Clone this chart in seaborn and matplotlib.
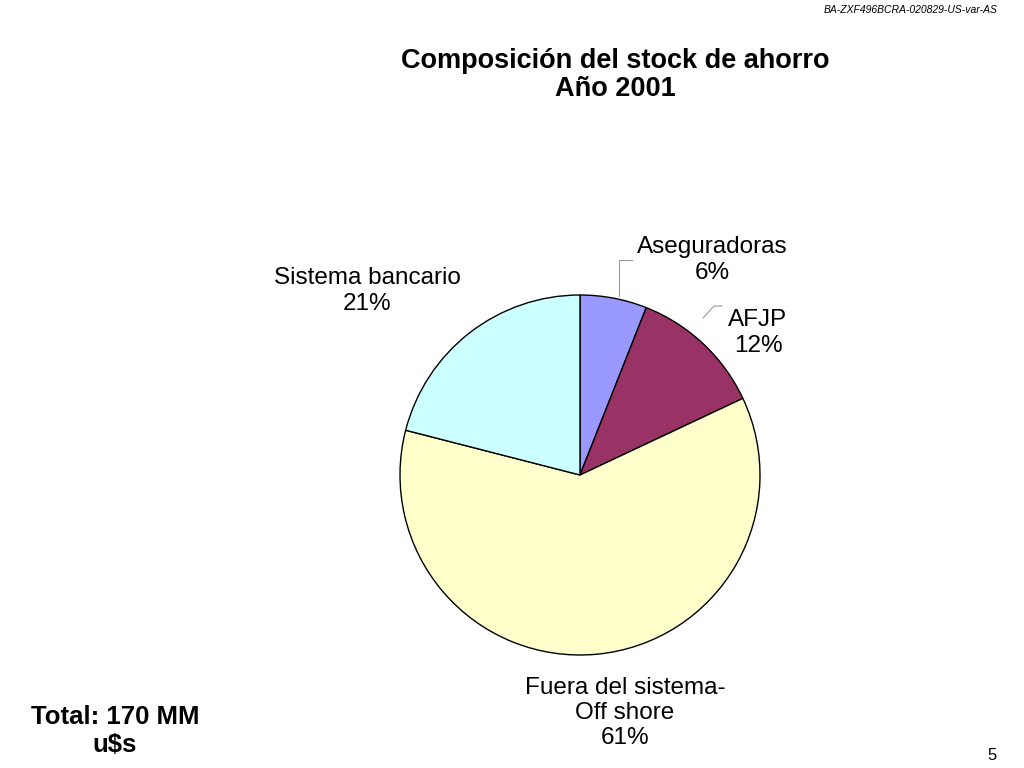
import seaborn as sns
import matplotlib.pyplot as plt
from matplotlib.lines import Line2D

sns.set_style("white")
plt.rcParams['font.family'] = ['Liberation Sans', 'DejaVu Sans']
plt.rcParams['text.color'] = 'black'

# data
labels = ["Aseguradoras", "AFJP", "Fuera del sistema-\nOff shore", "Sistema bancario"]
shares = [6, 12, 61, 21]
colors = ["#9999FF", "#993366", "#FFFFCC", "#CCFFFF"]

fig = plt.figure(figsize=(10.24, 7.68), dpi=100)
ax = fig.add_axes([400 / 1024, 113 / 768, 360 / 1024, 360 / 768])
ax.pie(shares, colors=colors, startangle=90, counterclock=False,
       wedgeprops=dict(edgecolor="black", linewidth=1))
ax.set_aspect("equal")
ax.set_xlim(-1, 1)
ax.set_ylim(-1, 1)

def px(x, y):
    return x / 1024, 1 - y / 768

# slice labels
pos = [(712, 260), (758, 333), (625, 713), (367, 291)]
for lab, s, (x, y) in zip(labels, shares, pos):
    fig.text(*px(x, y), f"{lab}\n{s}%", ha="center", va="center",
             fontsize=17.5, linespacing=1.2)

# leader lines
for pts in [[(632, 260), (619, 260), (619, 296)], [(722, 306), (714, 306), (703, 318)]]:
    xs = [p[0] / 1024 for p in pts]
    ys = [1 - p[1] / 768 for p in pts]
    fig.add_artist(Line2D(xs, ys, color="#999999", linewidth=0.8))

fig.text(*px(615, 75), "Composición del stock de ahorro\nAño 2001", ha="center",
         va="center", fontsize=19.5, fontweight="bold", linespacing=1.15)
fig.text(*px(115, 731), "Total: 170 MM\nu$s", ha="center", va="center",
         fontsize=18.5, fontweight="bold", linespacing=1.2)
fig.text(*px(998, 10), "BA-ZXF496BCRA-020829-US-var-AS", ha="right", va="center",
         fontsize=7.5, style="italic")
fig.text(*px(997, 755), "5", ha="right", va="center", fontsize=12)

fig.savefig("out.png", dpi=100)
